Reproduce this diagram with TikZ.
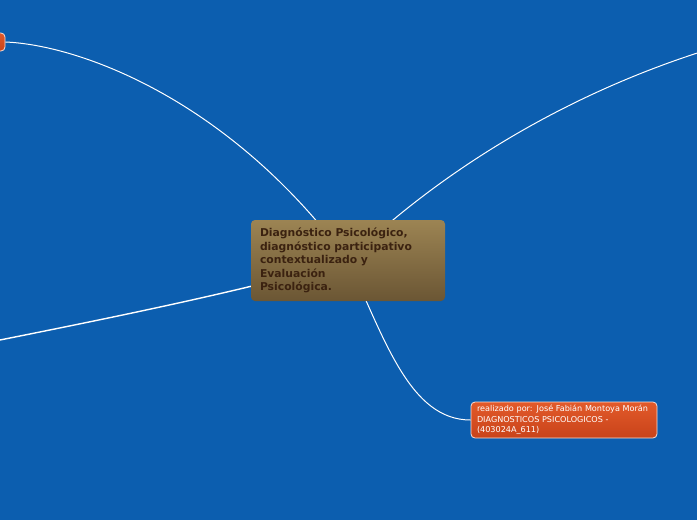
\documentclass[tikz,border=0pt]{standalone}
\usepackage{fontspec}
\setmainfont{DejaVu Sans}
\usetikzlibrary{backgrounds}
\definecolor{fondo}{HTML}{0C5EAF}
\definecolor{tematop}{HTML}{9C8453}
\definecolor{temabot}{HTML}{6B5634}
\definecolor{temtxt}{HTML}{3B2210}
\definecolor{naratop}{HTML}{E25A2A}
\definecolor{narabot}{HTML}{C9431A}
\tikzset{
  central/.style={rounded corners=4pt, top color=tematop, bottom color=temabot,
    text=temtxt, font=\bfseries\fontsize{10.8}{13.6}\selectfont, align=left,
    minimum width=194pt, minimum height=81pt, text width=176pt, inner sep=0pt},
  subtema/.style={rounded corners=4pt, top color=naratop, bottom color=narabot,
    draw=white!80!naratop, line width=0.8pt, text=white,
    font=\fontsize{8.1}{10.4}\selectfont, align=left,
    minimum width=186pt, minimum height=36pt, text width=174pt, inner sep=0pt},
  rama/.style={draw=white, line width=1pt}
}
\begin{document}
\begin{tikzpicture}[x=1pt, y=-1pt]
  \useasboundingbox (0,0) rectangle (697,520);
  \clip (0,0) rectangle (697,520);
  % main topic and sub topics
  \node[central] (tema) at (348,260.5) {Diagnóstico Psicológico,\\diagnóstico participativo\\contextualizado y\\Evaluación\\Psicológica.};
  \node[subtema] (autor) at (564,420) {realizado por: José Fabián Montoya Morán\\DIAGNOSTICOS PSICOLOGICOS -\\(403024A\_611)};
  \node[subtema, minimum width=20pt, minimum height=18pt, text width=10pt] (izq) at (-5,42) {};
  \coordinate (derecha) at (760,35);
  \coordinate (abajoizq) at (-10,342);
  \begin{scope}[on background layer]
    \fill[fondo] (0,0) rectangle (697,520);
    % branches from the center
    \draw[rama] (tema.center) .. controls (230,100) and (80,45) .. (izq.east);
    \draw[rama] (tema.center) .. controls (420,190) and (560,85) .. (derecha);
    \draw[rama, line width=1.4pt] (tema.center) .. controls (250,290) and (100,320) .. (abajoizq);
    \draw[rama] (tema.center) .. controls (385,340) and (410,420) .. (autor.west);
  \end{scope}
\end{tikzpicture}
\end{document}
